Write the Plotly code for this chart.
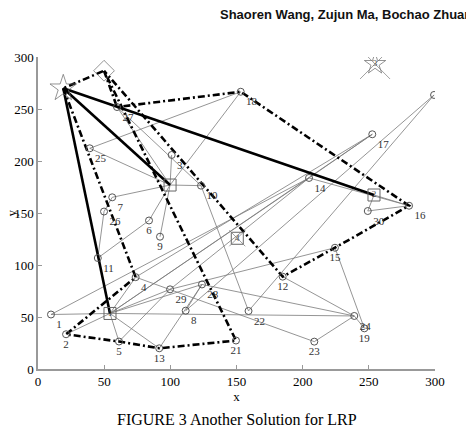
import plotly.graph_objects as go

# customers (circles)
cust_names = ["1", "2", "3", "4", "5", "6", "7", "8", "9", "10",
              "11", "12", "13", "14", "15", "16", "17", "18", "19", "20",
              "21", "22", "23", "24", "25", "26", "27", "28", "29", "30"]
cust_x = [9.8, 21.2, 101.0, 73.8, 61.2, 83.9, 56.1, 111.6, 92.2, 123.2,
          45.2, 184.9, 91.6, 204.8, 224.4, 280.4, 252.6, 153.2, 246.6, 299.3,
          149.6, 159.1, 208.8, 239.0, 39.1, 49.9, 59.7, 123.9, 99.8, 249.2]
cust_y = [52.4, 33.4, 205.8, 88.3, 26.4, 142.8, 165.1, 56.1, 127.2, 176.3,
          106.7, 88.8, 19.9, 183.7, 116.6, 157.0, 225.7, 266.6, 39.1, 263.5,
          27.4, 55.8, 26.3, 51.0, 212.2, 151.4, 251.9, 81.3, 76.6, 151.9]

# satellite depots (squares)
sat_names = ["S1", "S2", "S3", "S4"]
sat_labels = ["1", "2", "", "4"]
sat_x = [54.4, 253.9, 99.8, 150.6]
sat_y = [53.4, 167.3, 176.9, 125.7]

# plants: star (open), diamond (open), closed star (crossed out)
plant_names = ["D1", "D2", "D3"]
plant_x = [19.1, 49.9, 254.7]
plant_y = [269.9, 286.8, 293.3]

# vehicle routes (bold dash-dot)
route_a = ["D1", "4", "2", "5", "13", "21", "D2", "D1"]
route_b = ["D2", "27", "18", "16", "15", "12", "D2"]

# first level links (bold solid)
trunk_links = [("D1", "S1"), ("D1", "S3"), ("D1", "S2")]

# other links (thin grey)
thin_links = [("S1", "1"), ("S1", "2"), ("S1", "5"), ("S1", "13"), ("S1", "4"),
              ("S1", "29"), ("S1", "28"), ("S1", "24"), ("S1", "14"), ("S1", "17"),
              ("1", "14"), ("4", "23"), ("4", "17"), ("29", "15"), ("8", "28"),
              ("13", "28"), ("5", "29"), ("29", "14"), ("28", "24"), ("20", "22"),
              ("20", "8"), ("12", "24"), ("15", "19"), ("24", "23"), ("24", "19"),
              ("10", "22"), ("S3", "3"), ("S3", "7"), ("S3", "6"), ("S3", "9"),
              ("S3", "25"), ("S3", "27"), ("S3", "18"), ("S3", "10"), ("25", "18"),
              ("26", "7"), ("26", "11"), ("11", "6"), ("27", "10"), ("14", "16"),
              ("S2", "30"), ("S2", "16"), ("30", "16"), ("14", "17")]

# lookup of all positions
pos = {}
for n, x, y in zip(cust_names, cust_x, cust_y):
    pos[n] = (x, y)
for n, x, y in zip(sat_names, sat_x, sat_y):
    pos[n] = (x, y)
for n, x, y in zip(plant_names, plant_x, plant_y):
    pos[n] = (x, y)


def link_xy(pairs):
    xs, ys = [], []
    for a, b in pairs:
        xs += [pos[a][0], pos[b][0], None]
        ys += [pos[a][1], pos[b][1], None]
    return xs, ys


def route_xy(route):
    return [pos[n][0] for n in route], [pos[n][1] for n in route]


fig = go.Figure()

# thin links
tx, ty = link_xy(thin_links)
fig.add_trace(go.Scatter(x=tx, y=ty, mode="lines",
                         line=dict(color="#7a7a7a", width=0.8), hoverinfo="skip"))

# bold solid links
bx, by = link_xy(trunk_links)
fig.add_trace(go.Scatter(x=bx, y=by, mode="lines",
                         line=dict(color="black", width=2.6), hoverinfo="skip"))

# routes
for r in [route_a, route_b]:
    rx, ry = route_xy(r)
    fig.add_trace(go.Scatter(x=rx, y=ry, mode="lines",
                             line=dict(color="black", width=2.6, dash="7px,3px,2px,3px"),
                             hoverinfo="skip"))

# customers
text_pos = ["bottom right"] * len(cust_names)
for i, n in enumerate(cust_names):
    if n in ["2", "5", "13", "23", "21", "12", "15", "9", "6", "19"]:
        text_pos[i] = "bottom center"
fig.add_trace(go.Scatter(
    x=cust_x, y=cust_y, mode="markers+text", text=cust_names,
    textposition=text_pos,
    textfont=dict(family="Liberation Serif", size=11, color="#333"),
    marker=dict(symbol="circle-open", size=7, color="#555", line=dict(width=1))))

# satellites
fig.add_trace(go.Scatter(
    x=sat_x, y=sat_y, mode="markers+text", text=sat_labels, textposition="middle center",
    textfont=dict(family="Liberation Serif", size=9, color="#444"),
    marker=dict(symbol="square-open", size=12, color="#666", line=dict(width=1))))

# plants
fig.add_trace(go.Scatter(
    x=plant_x, y=plant_y, mode="markers+text", text=["", "", "3"], textposition="middle center",
    textfont=dict(family="Liberation Serif", size=9, color="#444"),
    marker=dict(symbol=["star-open", "diamond-open", "star-open"], size=[20, 16, 16],
                color="#666", line=dict(width=1))))

# closed ones crossed out
fig.add_trace(go.Scatter(
    x=[plant_x[2], sat_x[3]], y=[plant_y[2], sat_y[3]], mode="markers",
    marker=dict(symbol="x-thin-open", size=[30, 16], color="#777", line=dict(width=1, color="#777"))))

# page has an 8px body margin, so the figure is a bit smaller and shifted
fig.update_layout(
    width=466, height=419,
    margin=dict(l=30, r=39, t=49, b=58),
    plot_bgcolor="white", paper_bgcolor="white",
    showlegend=False,
    font=dict(family="Liberation Serif", size=13, color="black"),
    xaxis=dict(range=[0, 300], tickvals=[0, 50, 100, 150, 200, 250, 300],
               showgrid=False, zeroline=False, showline=True, linecolor="#999",
               linewidth=1.5, ticks="inside", ticklen=4, tickcolor="#999",
               automargin=False,
               title=dict(text="x", standoff=4, font=dict(size=13))),
    yaxis=dict(range=[0, 300], tickvals=[0, 50, 100, 150, 200, 250, 300],
               showgrid=False, zeroline=False, showline=True, linecolor="#999",
               linewidth=1.5, ticks="inside", ticklen=4, tickcolor="#999",
               automargin=False),
)

# y axis title, put by hand left of the tick labels
fig.add_annotation(text="y", xref="paper", yref="paper", x=(2.5 - 30) / 397, y=0.5,
                   xanchor="center", yanchor="middle", textangle=-90, showarrow=False,
                   font=dict(family="Liberation Serif", size=13, color="black"))

# header and caption
fig.add_annotation(text="<b>Shaoren Wang, Zujun Ma, Bochao Zhuang</b>",
                   xref="paper", yref="paper", x=(210 - 30) / 397, y=1 + (49 - 6) / 312,
                   xanchor="left", yanchor="middle", showarrow=False,
                   font=dict(family="Liberation Sans", size=13, color="#111"))
fig.add_annotation(text="FIGURE 3 Another Solution for LRP",
                   xref="paper", yref="paper", x=(229 - 30) / 397, y=-(401 - 361) / 312,
                   xanchor="center", yanchor="top", showarrow=False,
                   font=dict(family="Liberation Serif", size=16, color="black"))

fig.write_html("out.html")
